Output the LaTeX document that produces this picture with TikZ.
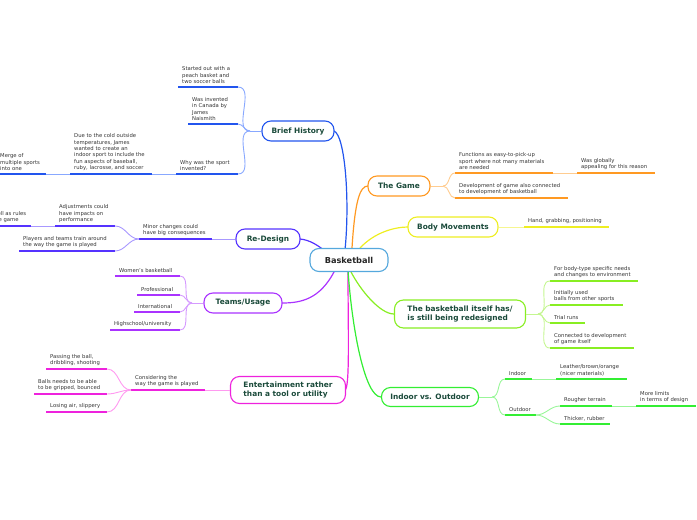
\documentclass[tikz,border=0pt]{standalone}
\usepackage{fontspec}
\setmainfont{DejaVu Sans}
\begin{document}
\begin{tikzpicture}[x=1pt,y=-1pt,
 main/.style={draw=#1,line width=1.1pt,rounded corners=9pt,fill=white,text=tgreen,font=\fontsize{7.4}{9}\selectfont\bfseries,align=left,inner xsep=6pt},
 leaft/.style={anchor=south west,inner sep=0pt,align=left,font=\fontsize{5.3}{6.4}\selectfont,text=black!80},
 ul/.style={draw=#1,line width=1.4pt},
 cn/.style={draw=#1,line width=0.9pt}]
\definecolor{tgreen}{HTML}{1A4A3A}
\definecolor{cbh}{HTML}{2255EE}\definecolor{lbh}{HTML}{88A8FF}
\definecolor{crd}{HTML}{5533FF}\definecolor{lrd}{HTML}{A898FF}
\definecolor{ctu}{HTML}{AA33FF}\definecolor{ltu}{HTML}{D59AFF}
\definecolor{cen}{HTML}{EE22DD}\definecolor{len}{HTML}{FF9AF0}
\definecolor{cgm}{HTML}{FF9922}\definecolor{lgm}{HTML}{FFCC90}
\definecolor{cbm}{HTML}{EEEE22}\definecolor{lbm}{HTML}{F6F690}
\definecolor{cbi}{HTML}{88EE22}\definecolor{lbi}{HTML}{C4F690}
\definecolor{cio}{HTML}{33EE33}\definecolor{lio}{HTML}{99F699}
\definecolor{ccen}{HTML}{55A8DD}
\useasboundingbox (0,0) rectangle (697,520);
% leaf macro: name, x1, x2, y, color, text
\newcommand{\mmleaf}[6]{%
 \node[leaft] (#1) at (#2+4,#4-3) {#6};
 \coordinate (#1-l) at (#2,#4); \coordinate (#1-r) at (#3,#4);
 \draw[ul=#5] (#1-l) -- (#1-r);}
% main connectors first
\coordinate (bc) at (349,260);
\draw[cn=cbh,line width=1.2pt] (345,250) .. controls (350,200) and (345,135) .. (334,131);
\draw[cn=crd,line width=1.2pt] (330,255) .. controls (318,245) and (310,240) .. (300,239);
\draw[cn=ctu,line width=1.2pt] (335,270) .. controls (320,300) and (300,303) .. (282,303);
\draw[cn=cen,line width=1.2pt] (348,270) .. controls (348,330) and (350,388) .. (345,390);
\draw[cn=cgm,line width=1.2pt] (352,248) .. controls (355,200) and (360,186) .. (368,186);
\draw[cn=cbm,line width=1.2pt] (360,248) .. controls (375,232) and (395,227) .. (408,227);
\draw[cn=cbi,line width=1.2pt] (350,270) .. controls (360,290) and (380,314) .. (394,314);
\draw[cn=cio,line width=1.2pt] (348,270) .. controls (352,330) and (365,397) .. (381,397);
\node[main=ccen,font=\fontsize{8.2}{9}\selectfont\bfseries,text=black!85,minimum width=78pt,minimum height=23pt] (bb) at (349,260) {Basketball};
\node[main=cbh,minimum width=72pt,minimum height=20pt] (bh) at (298,131) {Brief History};
\node[main=crd,minimum width=64pt,minimum height=20pt] (rd) at (268,239) {Re-Design};
\node[main=ctu,minimum width=78pt,minimum height=20pt] (tu) at (243,303) {Teams/Usage};
\node[main=cen,minimum width=115pt,minimum height=27pt] (en) at (288,390) {Entertainment rather\\than a tool or utility};
\node[main=cgm,minimum width=62pt,minimum height=20pt] (gm) at (399,186) {The Game};
\node[main=cbm,minimum width=90pt,minimum height=20pt] (bm) at (453,227) {Body Movements};
\node[main=cbi,minimum width=131pt,minimum height=28pt] (bi) at (460,314) {The basketball itself has/\\is still being redesigned};
\node[main=cio,minimum width=97pt,minimum height=19pt] (io) at (430,397) {Indoor vs. Outdoor};
% Brief history
\mmleaf{h1}{178}{238}{87}{cbh}{Started out with a\\peach basket and\\two soccer balls}
\mmleaf{h2}{188}{238}{124}{cbh}{Was invented\\in Canada by\\James\\Naismith}
\mmleaf{h3}{176}{238}{174}{cbh}{Why was the sport\\invented?}
\mmleaf{h4}{70}{152}{174}{cbh}{Due to the cold outside\\temperatures, James\\wanted to create an\\indoor sport to include the\\ fun aspects of baseball,\\ruby, lacrosse, and soccer}
\mmleaf{h5}{-4}{46}{174}{cbh}{Merge of\\multiple sports\\into one}
\coordinate (bhj) at (250,131);
\draw[cn=lbh] (bh.west) -- (bhj);
\foreach \n in {h1,h2,h3} \draw[cn=lbh] (bhj) to[out=180,in=0] (\n-r);
\draw[cn=lbh] (h4-r) -- (h3-l); \draw[cn=lbh] (h5-r) -- (h4-l);
% Re-design
\mmleaf{r1}{139}{212}{239}{crd}{Minor changes could\\have big consequences}
\mmleaf{r2}{55}{115}{226}{crd}{Adjustments could\\have impacts on\\performance}
\mmleaf{r3}{-11}{31}{226}{crd}{well as rules\\the game}
\mmleaf{r4}{19}{115}{251}{crd}{Players and teams train around\\the way the game is played}
\draw[cn=lrd] (rd.west) -- (r1-r);
\draw[cn=lrd] (r1-l) to[out=180,in=0] (r2-r); \draw[cn=lrd] (r1-l) to[out=180,in=0] (r4-r);
\draw[cn=lrd] (r3-r) -- (r2-l);
% Teams
\mmleaf{t1}{115}{180}{276}{ctu}{Women's basketball}
\mmleaf{t2}{137}{180}{295}{ctu}{Professional}
\mmleaf{t3}{134}{180}{312}{ctu}{International}
\mmleaf{t4}{110}{180}{330}{ctu}{Highschool/university}
\coordinate (tuj) at (192,303);
\draw[cn=ltu] (tu.west) -- (tuj);
\foreach \n in {t1,t2,t3,t4} \draw[cn=ltu] (tuj) to[out=180,in=0] (\n-r);
% Entertainment
\mmleaf{e1}{131}{205}{390}{cen}{Considering the\\way the game is played}
\mmleaf{e2}{46}{107}{369}{cen}{Passing the ball,\\dribbling, shooting}
\mmleaf{e3}{34}{107}{394}{cen}{Balls needs to be able\\to be gripped, bounced}
\mmleaf{e4}{46}{107}{412}{cen}{Losing air, slippery}
\draw[cn=len] (en.west) -- (e1-r);
\foreach \n in {e2,e3,e4} \draw[cn=len] (e1-l) to[out=180,in=0] (\n-r);
% The Game
\mmleaf{g1}{455}{553}{173}{cgm}{Functions as easy-to-pick-up\\sport where not many materials\\are needed}
\mmleaf{g2}{577}{655}{173}{cgm}{Was globally\\appealing for this reason}
\mmleaf{g3}{455}{568}{198}{cgm}{Development of game also connected\\to development of basketball}
\coordinate (gmj) at (443,186);
\draw[cn=lgm] (gm.east) -- (gmj);
\foreach \n in {g1,g3} \draw[cn=lgm] (gmj) to[out=0,in=180] (\n-l);
\draw[cn=lgm] (g1-r) -- (g2-l);
% Body movements
\mmleaf{m1}{524}{609}{227}{cbm}{Hand, grabbing, positioning}
\draw[cn=lbm] (bm.east) -- (m1-l);
% Basketball itself
\mmleaf{b1}{550}{638}{281}{cbi}{For body-type specific needs\\and changes to environment}
\mmleaf{b2}{550}{623}{305}{cbi}{Initially used\\balls from other sports}
\mmleaf{b3}{550}{585}{323}{cbi}{Trial runs}
\mmleaf{b4}{550}{634}{348}{cbi}{Connected to development\\of game itself}
\coordinate (bij) at (538,314);
\draw[cn=lbi] (bi.east) -- (bij);
\foreach \n in {b1,b2,b3,b4} \draw[cn=lbi] (bij) to[out=0,in=180] (\n-l);
% Indoor/outdoor
\mmleaf{i1}{505}{532}{379}{cio}{Indoor}
\mmleaf{i2}{556}{627}{379}{cio}{Leather/brown/orange\\(nicer materials)}
\mmleaf{o1}{505}{536}{415}{cio}{Outdoor}
\mmleaf{o2}{560}{612}{406}{cio}{Rougher terrain}
\mmleaf{o3}{636}{696}{406}{cio}{More limits\\in terms of design}
\mmleaf{o4}{560}{610}{424}{cio}{Thicker, rubber}
\coordinate (ioj) at (492,397);
\draw[cn=lio] (io.east) -- (ioj);
\foreach \n in {i1,o1} \draw[cn=lio] (ioj) to[out=0,in=180] (\n-l);
\draw[cn=lio] (i1-r) -- (i2-l); \draw[cn=lio] (o2-r) -- (o3-l);
\foreach \n in {o2,o4} \draw[cn=lio] (o1-r) to[out=0,in=180] (\n-l);
\end{tikzpicture}
\end{document}
